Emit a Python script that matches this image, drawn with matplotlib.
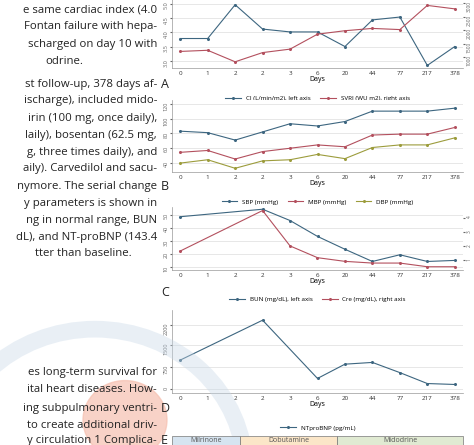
import numpy as np
import matplotlib.pyplot as plt
from matplotlib.patches import Rectangle, Circle

days = ["0", "1", "2", "2", "3", "6", "20", "44", "77", "217", "378"]
ci = [3.78, 3.78, 4.96, 4.11, 4.01, 4.01, 3.50, 4.43, 4.53, 2.84, 3.50]
svri = [1213, 1255, 830, 1170, 1298, 1851, 1979, 2064, 2021, 2915, 2787]
sbp = [83, 81, 71, 82, 93, 90, 96, 110, 110, 110, 114]
mbp = [54.5, 57, 45.5, 55.5, 60, 64.5, 62, 77.8, 79, 79, 88]
dbp = [40, 44.5, 33, 43, 44.5, 51.7, 46, 61, 64.5, 64.5, 74]
bun = [48.6, np.nan, np.nan, 54.3, 45.7, 33.6, 23.8, 14.5, 19.6, 14.5, 15.3]
cre = [1.64, np.nan, np.nan, 4.5, 2.0, 1.17, 0.91, 0.79, 0.79, 0.53, 0.53]
bnp = [980, np.nan, np.nan, 2350, np.nan, 350, 840, 900, 550, 175, 143]

left_lines = [
    (10, "e same cardiac index (4.0", "r"), (27, "Fontan failure with hepa-", "r"),
    (44, "scharged on day 10 with", "r"), (61, "odrine.", 45),
    (84, "st follow-up, 378 days af-", "r"), (101, "ischarge), included mido-", "r"),
    (118, "irin (100 mg, once daily),", "r"), (135, "laily), bosentan (62.5 mg,", "r"),
    (152, "g, three times daily), and", "r"), (169, "aily). Carvedilol and sacu-", "r"),
    (186, "nymore. The serial change", "r"), (203, "y parameters is shown in", "r"),
    (220, "ng in normal range, BUN", "r"), (237, "dL), and NT-proBNP (143.4", "r"),
    (254, "tter than baseline.", 35),
    (372, "es long-term survival for", "r"), (390, "ital heart diseases. How-", "r"),
    (408, "ing subpulmonary ventri-", "r"), (426, "to create additional driv-", "r"),
    (441, "y circulation 1 Complica-", "r"),
]

W, H = 474, 445
fig = plt.figure(figsize=(W / 100, H / 100), dpi=100)
plt.rcParams['font.family'] = ['Open Sans', 'DejaVu Sans']

# watermark
fig.patches.append(Circle((125 / W, 1 - 420 / H), 42 / W, transform=fig.transFigure,
                          color='#f6c0b0', alpha=0.7, zorder=0))
fig.patches.append(Circle((95 / W, 1 - 470 / H), 150 / W, transform=fig.transFigure,
                          fill=False, lw=12, color='#c8d8e8', alpha=0.4, zorder=0))

for y, txt, al in left_lines:
    if al == "r":
        fig.text(157 / W, 1 - y / H, txt, ha='right', va='center', fontsize=8.2, color='#222')
    else:
        fig.text(al / W, 1 - y / H, txt, ha='left', va='center', fontsize=8.2, color='#222')

blue, red, olive = '#3d6680', '#b3505e', '#9c9c3c'
x = np.arange(len(days))


def panel(top, bottom, letter, ticky):
    ax = fig.add_axes([172 / W, 1 - bottom / H, 291 / W, (bottom - top) / H])
    ax.set_xlim(-0.3, 10.3)
    ax.set_xticks(x)
    ax.set_xticklabels(days, fontsize=4.5, color='#333')
    ax.tick_params(axis='x', length=0, pad=2)
    ax.tick_params(axis='y', labelsize=4, length=1.5, labelrotation=90, colors='#666', pad=1)
    ax.grid(axis='y', color='#ddd', lw=0.5)
    for s in ['top', 'right']:
        ax.spines[s].set_visible(False)
    for s in ['left', 'bottom']:
        ax.spines[s].set_color('#999')
        ax.spines[s].set_linewidth(0.5)
    ax.set_xlabel('Days', fontsize=5, labelpad=0)
    fig.text(161 / W, 1 - ticky / H, letter, fontsize=9, ha='left', va='center', color='#222')
    return ax


def draw(ax, vals, c, label):
    v = np.array(vals, dtype=float)
    m = ~np.isnan(v)
    return ax.plot(x[m], v[m], color=c, lw=0.8, marker='o', ms=1.2, label=label)[0]


def legend(ax, handles, y):
    ax.legend(handles=handles, loc='upper center', bbox_to_anchor=(0.5, y), ncol=3,
              fontsize=4.5, frameon=False, handlelength=2.5, columnspacing=1.5)


# A
ax = panel(-5, 68, 'A', 84)
ax.set_ylim(2.75, 5.3)
ax.set_yticks([3, 3.5, 4, 4.5, 5])
h1 = draw(ax, ci, blue, 'CI (L/min/m2), left axis')
ax2 = ax.twinx()
ax2.set_ylim(600, 3300)
ax2.set_yticks([1000, 1500, 2000, 2500, 3000])
ax2.tick_params(labelsize=3.5, length=1.5, labelrotation=90, colors='#666', pad=1)
for s in ax2.spines.values():
    s.set_visible(False)
h2 = draw(ax2, svri, red, 'SVRI (WU m2), right axis')
legend(ax, [h1, h2], -0.3)

# B
ax = panel(100, 172, 'B', 187)
ax.set_ylim(28, 125)
ax.set_yticks([40, 60, 80, 100, 120])
hs = [draw(ax, sbp, blue, 'SBP (mmHg)'), draw(ax, mbp, red, 'MBP (mmHg)'),
      draw(ax, dbp, olive, 'DBP (mmHg)')]
legend(ax, hs, -0.3)

# C
ax = panel(207, 270, 'C', 293)
ax.set_ylim(8, 56)
ax.set_yticks([10, 20, 30, 40, 50])
h1 = draw(ax, bun, blue, 'BUN (mg/dL), left axis')
ax2 = ax.twinx()
ax2.set_ylim(0.3, 4.75)
ax2.set_yticks([1, 2, 3, 4])
ax2.tick_params(labelsize=3.5, length=1.5, labelrotation=90, colors='#666', pad=1)
for s in ax2.spines.values():
    s.set_visible(False)
h2 = draw(ax2, cre, red, 'Cre (mg/dL), right axis')
legend(ax, [h1, h2], -0.33)

# D
ax = panel(310, 393, 'D', 409)
ax.set_ylim(-150, 2700)
ax.set_yticks([0, 750, 1500, 2200])
h1 = draw(ax, bnp, blue, 'NTproBNP (pg/mL)')
legend(ax, [h1], -0.32)

# E
fig.text(161 / W, 1 - 440 / H, 'E', fontsize=9, ha='left', va='center', color='#222')
for x0, x1, c, lab in [(172, 240, '#d6e4f0', 'Milrinone'), (240, 337, '#fbe6c8', 'Dobutamine'),
                       (337, 463, '#e0ead2', 'Midodrine')]:
    fig.patches.append(Rectangle((x0 / W, 0), (x1 - x0) / W, 9 / H, transform=fig.transFigure,
                                 facecolor=c, edgecolor='#777', lw=0.5))
    fig.text((x0 + x1) / 2 / W, 4 / H, lab, fontsize=5, ha='center', va='center', color='#555')

fig.savefig('out.png', dpi=100)
